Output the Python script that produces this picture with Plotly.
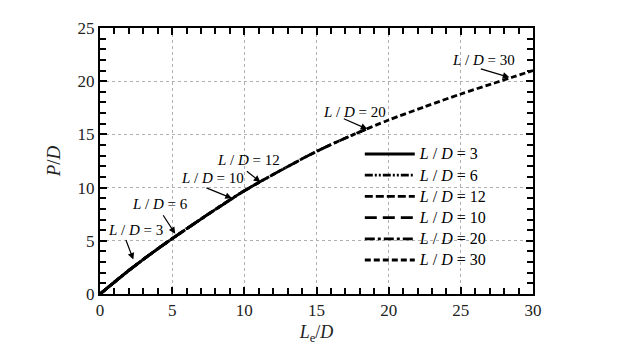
import plotly.graph_objects as go
import numpy as np

# Curve P/D vs Le/D
le_d = [0, 1, 2, 3, 4, 5, 7.5, 10, 12.5, 15, 17.5, 20, 22.5, 25, 27.5, 28.5, 30]
p_d = [0, 1.12, 2.22, 3.25, 4.25, 5.2, 7.5, 9.7, 11.6, 13.4, 14.95, 16.35, 17.6, 18.8, 19.9, 20.35, 21.0]

series_labels = ["<i>L</i> / <i>D</i> = 3", "<i>L</i> / <i>D</i> = 6", "<i>L</i> / <i>D</i> = 12",
                 "<i>L</i> / <i>D</i> = 10", "<i>L</i> / <i>D</i> = 20", "<i>L</i> / <i>D</i> = 30"]
series_end = [2.4, 5.1, 11.1, 9.2, 18.5, 30]
series_dash = ["solid", "8px,2px,2px,2px,2px,2px", "8px,3px", "12px,6px", "10px,3px,3px,3px", "6px,3px"]

# Annotation arrow tips (data coords) and labels
ann_labels = ["<i>L</i> / <i>D</i> = 3", "<i>L</i> / <i>D</i> = 6", "<i>L</i> / <i>D</i> = 10",
              "<i>L</i> / <i>D</i> = 12", "<i>L</i> / <i>D</i> = 20", "<i>L</i> / <i>D</i> = 30"]
ann_x = [2.31, 5.21, 9.14, 11.11, 18.52, 28.36]
ann_y = [3.24, 5.66, 9.0, 10.52, 15.5, 20.36]

fig = go.Figure()
order = sorted(range(len(series_labels)), key=lambda i: -series_end[i])
for i in order:
    xs = [x for x in le_d if x <= series_end[i]]
    ys = [p_d[le_d.index(x)] for x in xs]
    if xs[-1] < series_end[i]:
        xs.append(series_end[i])
        ys.append(float(np.interp(series_end[i], le_d, p_d)))
    fig.add_trace(go.Scatter(x=xs, y=ys, mode="lines",
                             name='<span style="font-size:16px">' + series_labels[i] + "</span>",
                             line=dict(color="black", width=2.8, dash=series_dash[i],
                                       shape="spline", smoothing=0.8),
                             legendrank=i + 1))

# arrow tail offsets (px) and text offsets (px) relative to tip
tail_dx = [-8, -13, -27, -15, -25, -30]
tail_dy = [-21, -20, -11, -12, -11, -9]
text_dx = [2, -15, -19, -12, -13, -26]
text_dy = [30, 30, 20, 22, 17, 17]

for t, x, y, adx, ady, tdx, tdy in zip(ann_labels, ann_x, ann_y, tail_dx, tail_dy, text_dx, text_dy):
    fig.add_annotation(x=x, y=y, text="", showarrow=True, ax=adx, ay=ady,
                       arrowhead=2, arrowsize=1.1, arrowwidth=1.2, arrowcolor="black")
    fig.add_annotation(x=x, y=y, text=t, showarrow=False, xshift=tdx, yshift=tdy,
                       font=dict(size=15, color="black", family="Liberation Serif"))

axis_common = dict(
    showline=True, linecolor="black", linewidth=2, mirror="ticks",
    ticks="inside", ticklen=7, tickwidth=1.5, tickcolor="black",
    showgrid=True, gridcolor="#b0b0b0", griddash="dot", gridwidth=1,
    zeroline=False, dtick=5,
    minor=dict(ticks="inside", ticklen=6, tickwidth=1.5, tickcolor="black", dtick=1, showgrid=False),
    tickfont=dict(size=17, color="#222", family="Liberation Serif"),
)

fig.update_xaxes(range=[0, 30], title=dict(text="<i>L</i><sub>e</sub>/<i>D</i>", font=dict(size=18, family="Liberation Serif", color="#222"), standoff=6), **axis_common)
fig.update_yaxes(range=[0, 25], title=dict(text="<i>P</i>/<i>D</i>", font=dict(size=19, family="Liberation Serif", color="#222"), standoff=12), **axis_common)

fig.update_layout(
    width=632, height=355,
    margin=dict(l=92, r=107, t=11, b=69),
    paper_bgcolor="white", plot_bgcolor="white",
    font=dict(family="Liberation Serif", color="black"),
    legend=dict(x=0.6, y=0.585, xanchor="left", yanchor="top",
                bgcolor="rgba(0,0,0,0)", font=dict(size=14, family="Liberation Serif"),
                tracegroupgap=0, itemwidth=50),
    showlegend=True,
)

fig.write_html("out.html")
